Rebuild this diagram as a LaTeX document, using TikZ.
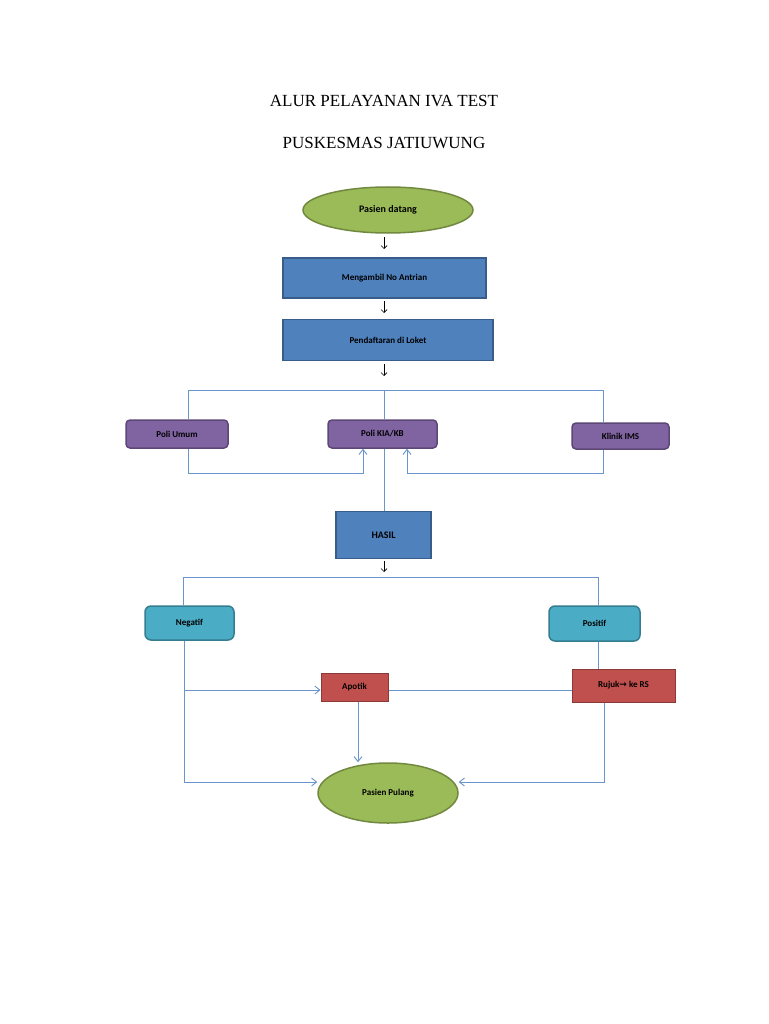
\documentclass[tikz,border=0pt]{standalone}
\usepackage{fontspec}
\setmainfont{Carlito}
\newfontfamily\titlefont{Liberation Serif}
\usetikzlibrary{shapes.geometric,arrows.meta}
\definecolor{lnb}{HTML}{6A95CC}
\definecolor{gfill}{HTML}{9BBB59}\definecolor{gdraw}{HTML}{71893F}
\definecolor{bfill}{HTML}{4F81BD}\definecolor{bdraw}{HTML}{385D8A}
\definecolor{pfill}{HTML}{8064A2}\definecolor{pdraw}{HTML}{5C4776}
\definecolor{cfill}{HTML}{4BACC6}\definecolor{cdraw}{HTML}{357D91}
\definecolor{rfill}{HTML}{C0504D}\definecolor{rdraw}{HTML}{8C3836}
\tikzset{
 ell/.style={ellipse,fill=gfill,draw=gdraw,line width=1.5pt,inner sep=0pt,font=\bfseries},
 bbox/.style={rectangle,fill=bfill,draw=bdraw,line width=1.5pt,inner sep=0pt,font=\bfseries\small},
 pbox/.style={rectangle,rounded corners=4pt,fill=pfill,draw=pdraw,line width=1.5pt,inner sep=0pt,font=\bfseries\small},
 cbox/.style={rectangle,rounded corners=6pt,fill=cfill,draw=cdraw,line width=1.5pt,inner sep=0pt,font=\bfseries\small},
 rbox/.style={rectangle,fill=rfill,draw=rdraw,line width=1pt,inner sep=0pt,font=\bfseries\small},
 ln/.style={draw=lnb,line width=0.9pt},
 arr/.style={ln,-{Straight Barb[length=5pt,width=8pt]}},
 karr/.style={black,line width=0.7pt,-{Straight Barb[length=3pt,width=6pt]}}
}
\begin{document}
\begin{tikzpicture}[x=1pt,y=-1pt]
\useasboundingbox[fill=white] (0,0) rectangle (768,1024);
\node[font=\titlefont\fontsize{17}{20}\selectfont] (t1) at (384,101) {ALUR PELAYANAN IVA TEST};
\node[font=\titlefont\fontsize{17}{20}\selectfont] (t2) at (384,143) {PUSKESMAS JATIUWUNG};

\node[ell,minimum width=170,minimum height=46] (pd) at (388,210) {Pasien datang};
\node[bbox,minimum width=203,minimum height=40] (ma) at (384.5,278) {Mengambil No Antrian};
\node[bbox,minimum width=210,minimum height=41] (pl) at (388,340) {Pendaftaran di Loket};
\node[pbox,minimum width=102,minimum height=28] (pu) at (177,434) {Poli Umum};
\node[pbox,minimum width=109,minimum height=28] (pk) at (382.5,434) {Poli KIA/KB};
\node[pbox,minimum width=97,minimum height=26] (ki) at (620.5,436) {Klinik IMS};
\node[bbox,minimum width=95,minimum height=47,font=\bfseries] (ha) at (383.5,535) {HASIL};
\node[cbox,minimum width=89,minimum height=34] (ng) at (189.5,623) {Negatif};
\node[cbox,minimum width=91,minimum height=35] (po) at (594.5,623.5) {Positif};
\node[rbox,minimum width=67,minimum height=28] (ap) at (354.5,687) {Apotik};
\node[rbox,minimum width=103,minimum height=33] (rj) at (623.5,685.5) {Rujuk{\fontspec{DejaVu Sans}\textbf{→}} ke RS};
\node[ell,minimum width=140,minimum height=60] (pp) at (388,793) {\small Pasien Pulang};

% small black arrows
\coordinate (a1s) at (384,237);\coordinate (a1e) at (384,249);
\coordinate (a2s) at (384,301);\coordinate (a2e) at (384,313);
\coordinate (a3s) at (384,364);\coordinate (a3e) at (384,376);
\coordinate (a4s) at (384,561);\coordinate (a4e) at (384,572);
\foreach \s/\e in {a1s/a1e,a2s/a2e,a3s/a3e,a4s/a4e} \draw[karr] (\s) -- (\e);

% branch to polis
\coordinate (b1) at (188,390);\coordinate (b2) at (603,390);
\draw[ln] (pu.north -| b1) -- (b1) -- (b2) -- (ki.north -| b2);
\draw[ln] (384,390) -- (pk.north -| 384,0);
\draw[arr] (pu.south -| b1) -- (188,473) -- (363,473) -- (pk.south -| 363,0);
\draw[arr] (ki.south -| b2) -- (603,473) -- (407,473) -- (pk.south -| 407,0);
\draw[ln] (pk.south -| 384,0) -- (ha.north -| 384,0);

% branch to results
\coordinate (c1) at (183,577);\coordinate (c2) at (598,577);
\draw[ln] (ng.north -| c1) -- (c1) -- (c2) -- (po.north -| c2);
\draw[ln] (po.south -| c2) -- (rj.north -| c2);
\draw[arr] (ng.south -| 184,0) -- (184,782) -- (pp.west |- 0,782);
\draw[arr] (184,690) -- (ap.west |- 0,690);
\draw[ln] (ap.east |- 0,690) -- (rj.west |- 0,690);
\draw[arr] (ap.south -| 358,0) -- (pp.north -| 358,0);
\draw[arr] (rj.south -| 604,0) -- (604,782) -- (pp.east |- 0,782);
\end{tikzpicture}
\end{document}
